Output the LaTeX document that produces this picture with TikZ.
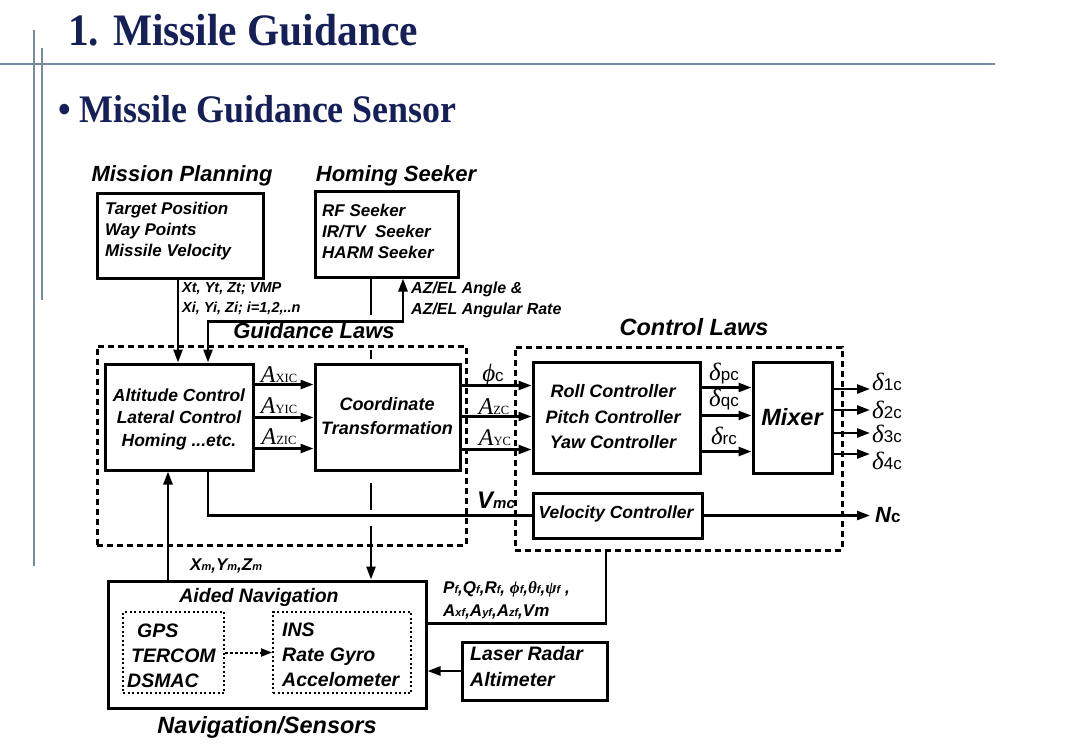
\documentclass[tikz,border=0pt]{standalone}
\usepackage{graphicx}
\usepackage{fontspec}
\setmainfont{Liberation Sans}
\newfontfamily\ser{Liberation Serif}
\usetikzlibrary{arrows.meta,calc}
\definecolor{navy}{RGB}{22,32,88}
\definecolor{rulec}{RGB}{120,138,160}
\newcommand\myfs[1]{\fontsize{#1}{#1}\selectfont}
\newcommand\Asig[1]{{\ser\itshape\myfs{24}A}{\ser\myfs{12.5}#1}}
\newcommand\dsig[1]{{\ser\itshape\myfs{25}δ}{\myfs{17}#1}}
\newcommand\lsub[1]{{\myfs{11}#1}}
\begin{document}
\begin{tikzpicture}[x=1pt,y=-1pt,
  box/.style={draw,line width=3pt,inner sep=0pt},
  dbox/.style={draw,line width=3pt,dash pattern=on 6pt off 4pt,inner sep=0pt},
  dotbox/.style={draw,line width=2pt,dash pattern=on 2pt off 2.5pt,inner sep=0pt},
  ln/.style={line width=2.5pt},
  arr/.style={line width=2.5pt,-{Triangle[length=13pt,width=9pt]}},
  hd/.style={inner sep=0pt,font=\myfs{22}\bfseries\itshape},
  hdL/.style={inner sep=0pt,font=\myfs{23.5}\bfseries\itshape},
  bt/.style={inner sep=0pt,align=left,font=\fontsize{17}{21}\selectfont\bfseries\itshape},
  bc/.style={inner sep=0pt,align=center,font=\fontsize{17.5}{22.5}\selectfont\bfseries\itshape},
  nt/.style={inner sep=0pt,align=left,font=\fontsize{19.5}{25}\selectfont\bfseries\itshape},
  sm/.style={inner sep=0pt,anchor=west,font=\myfs{14.5}\bfseries\itshape},
  md/.style={inner sep=0pt,anchor=west,font=\myfs{16}\bfseries\itshape},
  sig/.style={inner sep=0pt}]
\useasboundingbox (0,0) rectangle (1070,746);
\fill[white] (0,0) rectangle (1070,746);
% header
\draw[rulec,line width=2pt] (0,64) -- (995,64);
\draw[rulec,line width=1.5pt] (34,30) -- (34,566);
\draw[rulec,line width=1.5pt] (42,48) -- (42,300);
\node[anchor=base west,inner sep=0pt,text=navy,font=\ser\bfseries\myfs{45}] (title) at (68,46) {\scalebox{0.92}[1]{1. Missile Guidance}};
\node[anchor=base west,inner sep=0pt,text=navy,font=\ser\bfseries\myfs{39}] (sub) at (58,123) {\scalebox{0.92}[1]{• Missile Guidance Sensor}};
% top boxes
\node[hd] (mph) at (182,176) {Mission Planning};
\node[hd] (hsh) at (396,176) {Homing Seeker};
\node[box,minimum width=166pt,minimum height=84pt] (mp) at (180,236) {};
\node[bt,anchor=west] (mpt) at (105,231) {Target Position\\Way Points\\Missile Velocity};
\node[box,minimum width=143pt,minimum height=85pt] (hs) at (386.5,234.5) {};
\node[bt,anchor=west] (hst) at (322,231) {RF Seeker\\IR/TV\ \ Seeker\\HARM Seeker};
\node[sm] (lx1) at (182,289) {Xt, Yt, Zt; VMP};
\node[sm] (lx2) at (182,308) {Xi, Yi, Zi; i=1,2,..n};
\node[md] (laz1) at (411,289) {AZ/EL Angle \&};
\node[md] (laz2) at (411,310) {AZ/EL Angular Rate};
% guidance laws
\node[dbox,minimum width=369pt,minimum height=199pt] (gl) at (281.5,445.5) {};
\node[hd] (glh) at (314,331) {Guidance Laws};
\node[box,minimum width=148pt,minimum height=106pt] (alt) at (179,417) {};
\node[bc] (altt) at (179,419) {Altitude Control\\Lateral Control\\Homing ...etc.};
\node[box,minimum width=145pt,minimum height=106pt] (ct) at (387.5,417) {};
\node[bc,font=\fontsize{18}{24}\selectfont\bfseries\itshape] (ctt) at (387,416) {Coordinate\\Transformation};
% control laws
\node[dbox,minimum width=327pt,minimum height=203pt] (cl) at (678.5,448.5) {};
\node[hdL] (clh) at (694,327) {Control Laws};
\node[box,minimum width=167pt,minimum height=111pt] (roll) at (616.5,417.5) {};
\node[bc,font=\fontsize{18}{25.5}\selectfont\bfseries\itshape] (rollt) at (613,417) {Roll Controller\\Pitch Controller\\Yaw Controller};
\node[box,minimum width=79pt,minimum height=111pt] (mx) at (792.5,417.5) {};
\node[inner sep=0pt,font=\myfs{23.5}\bfseries\itshape] (mxt) at (792,417) {Mixer};
\node[box,minimum width=169pt,minimum height=45pt] (vel) at (617.5,515.5) {};
\node[inner sep=0pt,font=\myfs{17.5}\bfseries\itshape] (velt) at (616,514) {Velocity Controller};
% navigation
\node[box,minimum width=318pt,minimum height=127pt] (nav) at (267,644.5) {};
\node[inner sep=0pt,font=\myfs{19.5}\bfseries\itshape] (navt) at (259,597) {Aided Navigation};
\node[dotbox,minimum width=101pt,minimum height=81pt] (gps) at (173.5,652.5) {};
\node[nt,anchor=west] (g1) at (137,631) {GPS};
\node[nt,anchor=west] (g2) at (131,655.5) {TERCOM};
\node[nt,anchor=west] (g3) at (127,681) {DSMAC};
\node[dotbox,minimum width=138pt,minimum height=81pt] (ins) at (342,652.5) {};
\node[nt,anchor=west] (inst) at (282,655) {INS\\Rate Gyro\\Accelometer};
\node[box,minimum width=145pt,minimum height=58pt] (las) at (534.5,671) {};
\node[nt,anchor=west,font=\fontsize{19.5}{26}\selectfont\bfseries\itshape] (last) at (470,667) {Laser Radar\\Altimeter};
\node[hdL] (navh) at (267,727) {Navigation/Sensors};
% connectors top
\coordinate (mpB) at ([xshift=-2pt]mp.south);
\draw[arr] (mpB) -- (mpB |- alt.north);
\coordinate (hsR) at ([xshift=16.5pt]hs.south);
\coordinate (altR) at ([xshift=29pt]alt.north);
\draw[line width=2.5pt,{Triangle[length=13pt,width=9pt]}-{Triangle[length=13pt,width=9pt]}] (hsR) -- ++(0,43) -| (altR);
\coordinate (hsL) at ([xshift=-15.5pt]hs.south);
\draw[ln] (hsL) -- ++(0,36);
\draw[ln] ($(hsL)+(0,71)$) -- ++(0,9);
\draw[ln] ($(hsL)+(0,204)$) -- ++(0,27);
\draw[arr] ($(hsL)+(0,247)$) -- (hsL |- nav.north);
% guidance signals
\foreach \dy/\nm in {22/a1,55/a2,86/a3}{
  \coordinate (\nm) at ([yshift=-\dy pt]alt.north east);
  \draw[arr] (\nm) -- (\nm -| ct.west);
}
\node[sig] (la1) at (279,375) {\Asig{XIC}};
\node[sig] (la2) at (279,406) {\Asig{YIC}};
\node[sig] (la3) at (279,437) {\Asig{ZIC}};
\foreach \dy/\nm in {23/c1,54/c2,87/c3}{
  \coordinate (\nm) at ([yshift=-\dy pt]ct.north east);
  \draw[arr] (\nm) -- (\nm -| roll.west);
}
\node[sig] (lc1) at (493,375) {{\ser\itshape\myfs{25}ϕ}{\myfs{17}c}};
\node[sig] (lc2) at (494,407) {\Asig{ZC}};
\node[sig] (lc3) at (495,438) {\Asig{YC}};
\foreach \dy/\nm in {27/r1,55/r2,91/r3}{
  \coordinate (\nm) at ([yshift=-\dy pt]roll.north east);
  \draw[arr] (\nm) -- (\nm -| mx.west);
}
\node[sig] (ld1) at (724,374) {\dsig{pc}};
\node[sig] (ld2) at (724,400) {\dsig{qc}};
\node[sig] (ld3) at (724,436) {\dsig{rc}};
\coordinate (o1) at (870,389);
\coordinate (o2) at (870,410);
\coordinate (o3) at (870,433);
\coordinate (o4) at (870,454);
\foreach \o in {o1,o2,o3,o4}{\draw[arr] (\o -| mx.east) -- (\o);}
\node[sig,anchor=west] (lo1) at (872,382) {\dsig{1c}};
\node[sig,anchor=west] (lo2) at (872,410) {\dsig{2c}};
\node[sig,anchor=west] (lo3) at (872,434) {\dsig{3c}};
\node[sig,anchor=west] (lo4) at (872,461) {\dsig{4c}};
% velocity
\coordinate (vmA) at ([xshift=29pt]alt.south);
\draw[ln] (vmA) |- (vel.west);
\node[sig] (lvm) at (496,500) {{\bfseries\itshape\myfs{24}V}{\bfseries\itshape\myfs{15}mc}};
\coordinate (nc) at (870,515.5);
\draw[arr] (vel.east) -- (nc);
\node[sig,anchor=west] (lnc) at (875,515) {{\bfseries\itshape\myfs{22}N}{\bfseries\myfs{17}c}};
% navigation connectors
\coordinate (xmA) at ([xshift=-99pt]nav.north);
\draw[arr] (xmA) -- (xmA |- alt.south);
\node[sig,anchor=west,font=\myfs{17}\bfseries\itshape] (lxm) at (190,566) {X\lsub{m},Y\lsub{m},Z\lsub{m}};
\draw[arr] (las.west) -- (las.west -| nav.east);
\draw[line width=2pt,dash pattern=on 2.5pt off 2.5pt,-{Triangle[length=11pt,width=8pt]}] (gps.east) -- (ins.west);
\coordinate (navR) at ([yshift=-44pt]nav.north east);
\coordinate (clB) at ([xshift=-72.5pt]cl.south);
\draw[ln] (navR) -| (clB);
\node[sig,anchor=west,font=\myfs{17}\bfseries\itshape] (lp1) at (443,589) {P\lsub{f},Q\lsub{f},R\lsub{f}, {\ser\itshape ϕ}\lsub{f},{\ser\itshape θ}\lsub{f},{\ser\itshape ψ}\lsub{f} ,};
\node[sig,anchor=west,font=\myfs{17}\bfseries\itshape] (lp2) at (443,612) {A\lsub{xf},A\lsub{yf},A\lsub{zf},Vm};
\end{tikzpicture}
\end{document}
